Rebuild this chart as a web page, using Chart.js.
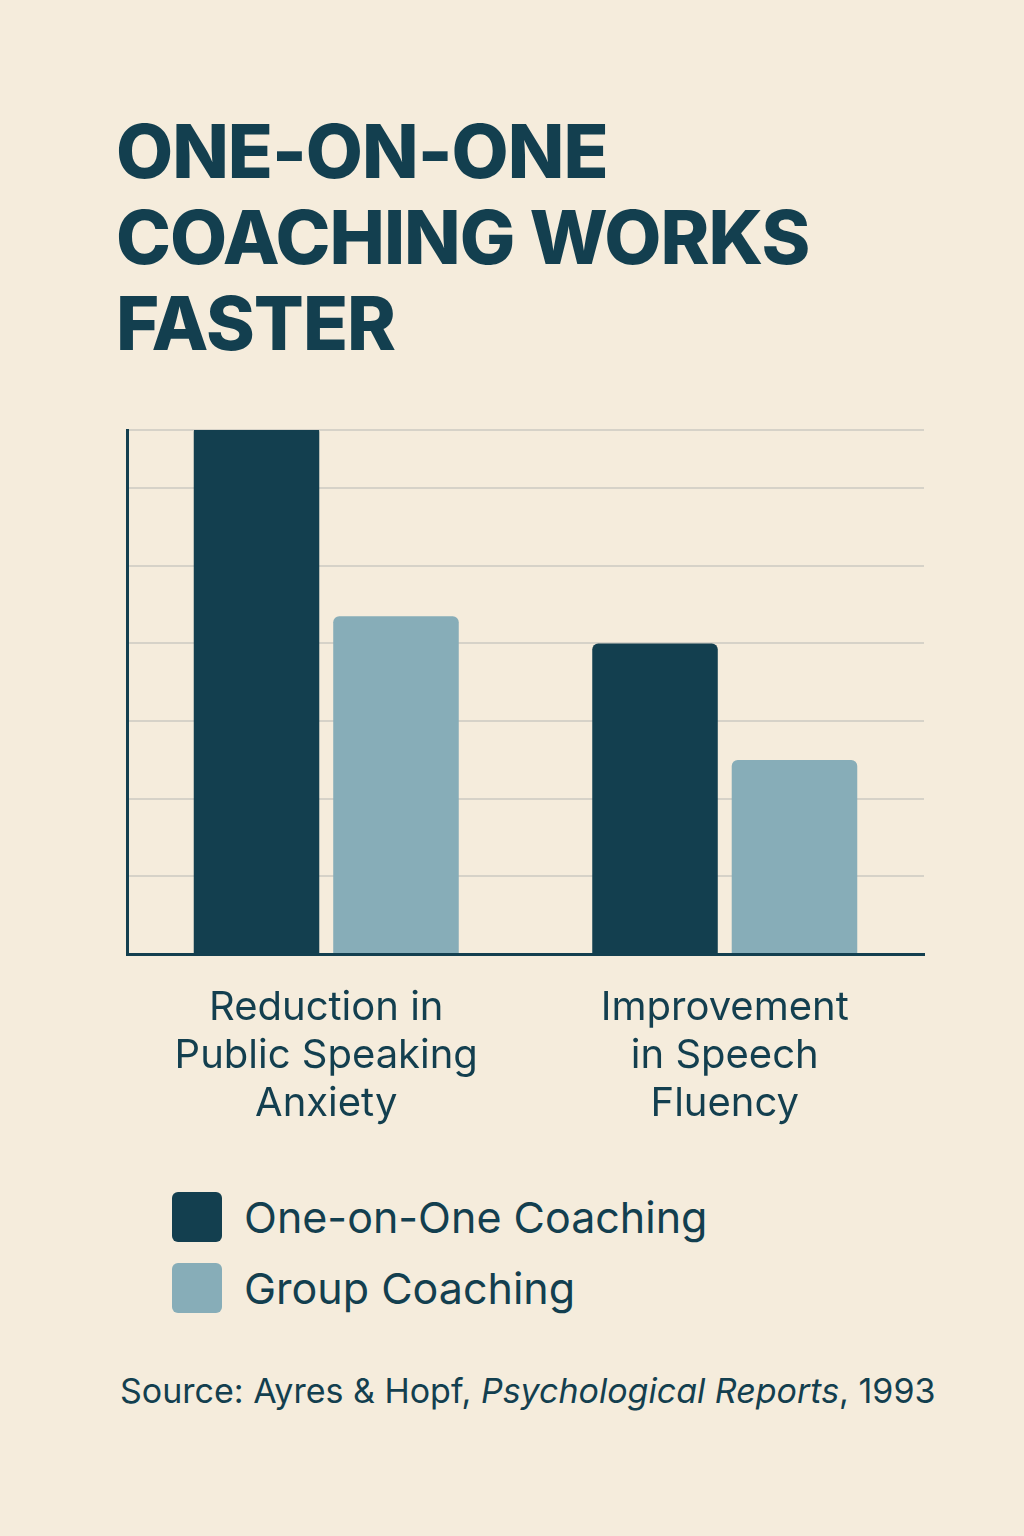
<!DOCTYPE html>
<html>
<head>
<meta charset="utf-8">
<script src="https://cdn.jsdelivr.net/npm/chart.js@4/dist/chart.umd.min.js"></script>
<style>
  body { margin: 0; width: 1024px; height: 1536px; background: #f5ecdc; font-family: Inter, "Noto Sans", sans-serif; color: #133f4f; position: relative; overflow: hidden; }
  h1 { position: absolute; left: 116px; top: 108px; margin: 0; font-size: 74px; line-height: 86px; font-weight: 800; letter-spacing: -1px; }
  #wrap { position: absolute; left: 117px; top: 420px; width: 817px; height: 730px; }
  .legend { position: absolute; left: 172px; font-size: 43px; display: flex; align-items: center; }
  .legend span { display: inline-block; width: 50px; height: 50px; border-radius: 6px; margin-right: 22px; }
  #source { position: absolute; left: 120px; top: 1370px; font-size: 34px; }
</style>
</head>
<body>
<h1>ONE-ON-ONE<br>COACHING WORKS<br>FASTER</h1>
<div id="wrap"><canvas id="chart"></canvas></div>
<div class="legend" style="top:1191px"><span style="background:#133f4f"></span>One-on-One Coaching</div>
<div class="legend" style="top:1262px"><span style="background:#87adb8"></span>Group Coaching</div>
<div id="source">Source: Ayres &amp; Hopf, <i>Psychological Reports</i>, 1993</div>
<script>
const categories = [["Reduction in", "Public Speaking", "Anxiety"], ["Improvement", "in Speech", "Fluency"]];
const oneOnOne = [6.8, 4.0];
const group = [4.35, 2.5];

new Chart(document.getElementById("chart"), {
  type: "bar",
  data: {
    labels: categories,
    datasets: [
      { label: "One-on-One Coaching", data: oneOnOne, backgroundColor: "#133f4f" },
      { label: "Group Coaching", data: group, backgroundColor: "#87adb8" },
    ],
  },
  options: {
    responsive: true,
    maintainAspectRatio: false,
    animation: false,
    layout: { padding: { left: 10, right: 10, top: 10 } },
    datasets: { bar: { categoryPercentage: 0.7, barPercentage: 0.9, borderRadius: 6, borderSkipped: "bottom" } },
    plugins: { legend: { display: false }, tooltip: { enabled: false } },
    scales: {
      x: {
        grid: { display: false },
        border: { color: "#133f4f", width: 3 },
        ticks: { color: "#133f4f", font: { size: 40, family: "Inter" }, padding: 22 },
      },
      y: {
        min: 0, max: 6.75,
        ticks: { display: false, stepSize: 1 },
        grid: { color: "#d6d2c8", lineWidth: 2, drawTicks: false },
        border: { color: "#133f4f", width: 3 },
      },
    },
  },
});
</script>
</body>
</html>
